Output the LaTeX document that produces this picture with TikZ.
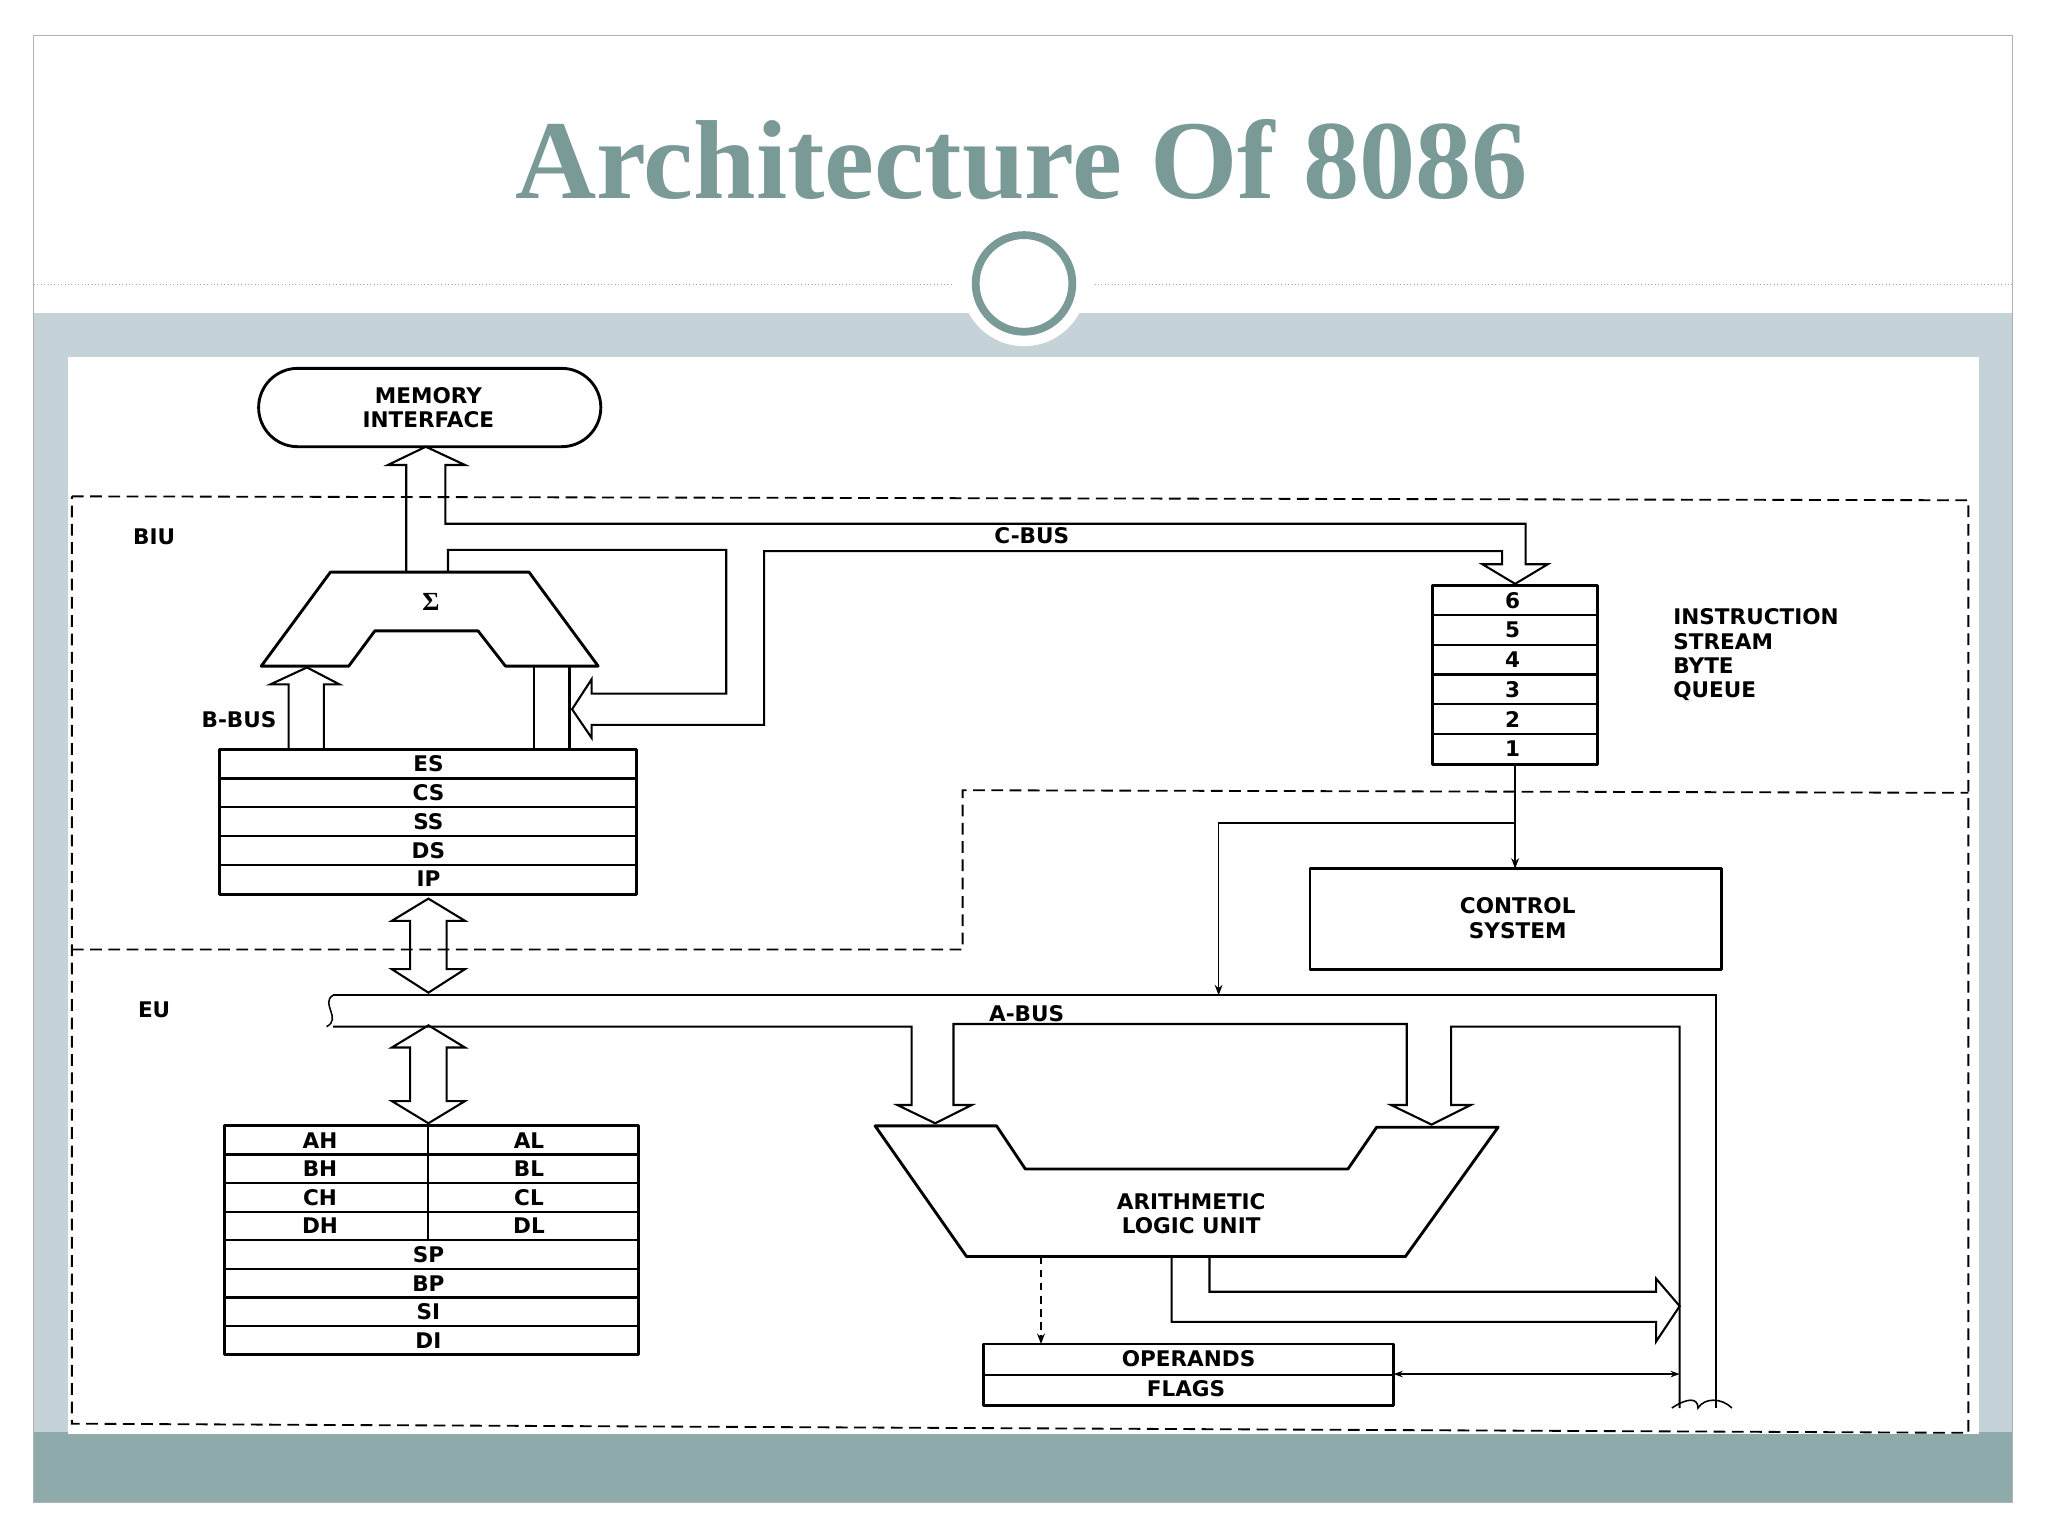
\documentclass[tikz,border=0pt]{standalone}
\usepackage{fontspec}
\setmainfont{DejaVu Sans}
\newfontfamily\titlefont{Liberation Serif}
\usetikzlibrary{arrows.meta}
\definecolor{slate}{HTML}{7A9A98}
\definecolor{band}{HTML}{C5D3D8}
\definecolor{foot}{HTML}{8FAAAA}
\begin{document}
\begin{tikzpicture}[x=1pt,y=-1pt,
  lbl/.style={font=\fontsize{16.5}{18.5}\selectfont\bfseries,inner sep=0pt},
  thick line/.style={line width=2.2pt,line join=round},
  bus/.style={line width=1.6pt,line join=miter},
  bdry/.style={line width=1.4pt,dash pattern=on 9pt off 5pt},
  tip/.style={-{Stealth[length=8pt,width=6pt]},line width=1.2pt}]
\useasboundingbox (0,0) rectangle (1568,1176);
% slide background
\fill[white] (0,0) rectangle (1568,1176);
\fill[band] (26,240) rectangle (1541,1098);
\fill[foot] (26,1096) rectangle (1541,1150);
\draw[gray!60,line width=0.8pt] (26,27) rectangle (1541,1150);
\draw[gray!70,line width=0.6pt,dotted] (26,218) -- (730,218) (838,218) -- (1541,218);
\fill[white] (784,217) circle (48);
\draw[slate,line width=6pt] (784,217) circle (37);
\node[font=\titlefont\fontsize{86}{96}\selectfont\bfseries,text=slate] (title) at (782,122) {Architecture Of 8086};
% diagram panel
\fill[white] (52,273) rectangle (1515,1098);
% boundaries
\draw[bdry] (55,380) -- (1507,383) -- (1507,1097) -- (55,1090) -- cycle;
\draw[bdry] (55,727) -- (737,727) -- (737,605) -- (1507,607);
\node[lbl] (biu) at (118,411) {BIU};
\node[lbl] (eu) at (118,773) {EU};
% memory interface
\draw[thick line,rounded corners=30pt] (198,282) rectangle (460,342);
\node[lbl,align=center] (mem) at (328,312) {MEMORY\\INTERFACE};
% sigma adder
\draw[thick line] (200,510) -- (253,438) -- (405,438) -- (458,510) -- (387,510) -- (366,483) -- (287,483) -- (267,510) -- cycle;
\node[font=\titlefont\fontsize{20}{22}\selectfont\bfseries,inner sep=0pt] (sigma) at (330,461) {Σ};
% memory arrow and C-bus
\draw[bus] (311,438) -- (311,356) -- (297,356) -- (326,342) -- (356,356) -- (341,356) -- (341,401) -- (1168,401) -- (1168,432) -- (1185,432) -- (1160,447) -- (1135,432) -- (1150,432) -- (1150,422) -- (585,422) -- (585,555) -- (453,555) -- (453,565) -- (438,543) -- (453,520) -- (453,531) -- (556,531) -- (556,421) -- (343,421) -- (343,438);
\node[lbl] (cbus) at (790,410) {C-BUS};
% B-bus arrow
\draw[bus] (221,574) -- (221,524) -- (207,524) -- (235,511) -- (260,524) -- (248,524) -- (248,574);
\node[lbl] (bbus) at (183,551) {B-BUS};
\draw[bus] (409,510) -- (409,574) (436,510) -- (436,574);
% segment registers
\draw[thick line] (168,574) rectangle (487,685);
\foreach \y in {596,618,640,662} \draw[line width=1.6pt] (168,\y) -- (487,\y);
\foreach \t/\y in {ES/585,CS/607,SS/629,DS/651,IP/673} \node[lbl] (r\t) at (328,\y) {\t};
% instruction queue
\draw[thick line] (1097,448) rectangle (1223,585);
\foreach \i in {1,...,5} \draw[line width=1.6pt] (1097,{448+\i*22.8}) -- (1223,{448+\i*22.8});
\foreach \t [count=\i from 0] in {6,5,4,3,2,1} \node[lbl] (q\t) at (1158,{459.5+\i*22.8}) {\t};
\node[lbl,align=left,anchor=north west] (isq) at (1281,466) {INSTRUCTION\\STREAM\\BYTE\\QUEUE};
% control system
\draw[thick line] (1003,665) rectangle (1318,742);
\node[lbl,align=center] (ctl) at (1162,703) {CONTROL\\SYSTEM};
\coordinate (qb) at (1160,585);
\coordinate (br) at (1160,630);
\coordinate (ct) at (1160,665);
\coordinate (ab) at (933,762);
\draw[tip] (qb) -- (ct);
\draw[tip] (br) -| (ab);
% A-bus
\draw[bus] (255,762) -- (1314,762) -- (1314,1078);
\draw[bus] (255,786) -- (698,786) -- (698,846) -- (687,846) -- (716,860) -- (744,846) -- (730,846) -- (730,784) -- (1077,784) -- (1077,846) -- (1065,846) -- (1096,861) -- (1126,846) -- (1111,846) -- (1111,786) -- (1286,786) -- (1286,1078);
\draw[line width=1.2pt] (255,762) .. controls (245,768) and (262,780) .. (250,786);
\draw[line width=1.2pt] (1280,1078) .. controls (1292,1070) and (1300,1070) .. (1300,1078) .. controls (1305,1070) and (1318,1070) .. (1326,1078);
\node[lbl] (abus) at (786,776) {A-BUS};
% bidirectional bus arrows
\draw[bus] (314,705) -- (300,705) -- (328,688) -- (356,705) -- (342,705) -- (342,742) -- (356,742) -- (328,760) -- (300,742) -- (314,742) -- cycle;
\draw[bus] (314,802) -- (300,802) -- (328,785) -- (356,802) -- (342,802) -- (342,843) -- (356,843) -- (328,860) -- (300,843) -- (314,843) -- cycle;
% general registers
\draw[thick line] (172,862) rectangle (489,1037);
\foreach \i in {1,...,7} \draw[line width=1.6pt] (172,{862+\i*21.9}) -- (489,{862+\i*21.9});
\draw[line width=1.4pt] (328,862) -- (328,950);
\foreach \a/\b [count=\i from 0] in {AH/AL,BH/BL,CH/CL,DH/DL} {
  \node[lbl] (g\a) at (245,{873+\i*21.9}) {\a};
  \node[lbl] (g\b) at (405,{873+\i*21.9}) {\b};}
\foreach \t [count=\i from 4] in {SP,BP,SI,DI} \node[lbl] (g\t) at (328,{873+\i*21.9}) {\t};
% ALU
\draw[thick line] (670,862) -- (763,862) -- (785,895) -- (1032,895) -- (1054,863) -- (1147,863) -- (1076,962) -- (740,962) -- cycle;
\node[lbl,align=center] (alu) at (912,929) {ARITHMETIC\\LOGIC UNIT};
\draw[bus] (897,962) -- (897,1012) -- (1268,1012) -- (1268,1027) -- (1286,1000) -- (1268,979) -- (1268,989) -- (926,989) -- (926,962);
% operands / flags
\draw[thick line] (753,1029) rectangle (1067,1076);
\draw[line width=1.6pt] (753,1053) -- (1067,1053);
\node[lbl] (opnd) at (910,1040) {OPERANDS};
\node[lbl] (flg) at (908,1063) {FLAGS};
\coordinate (dtop) at (797,962);
\coordinate (dbot) at (797,1029);
\draw[tip,dash pattern=on 6pt off 4pt] (dtop) -- (dbot);
\coordinate (fr) at (1067,1052);
\coordinate (fb) at (1286,1052);
\draw[{Stealth[length=7pt,width=5pt]}-{Stealth[length=7pt,width=5pt]},line width=1.1pt] (fr) -- (fb);
\end{tikzpicture}
\end{document}
